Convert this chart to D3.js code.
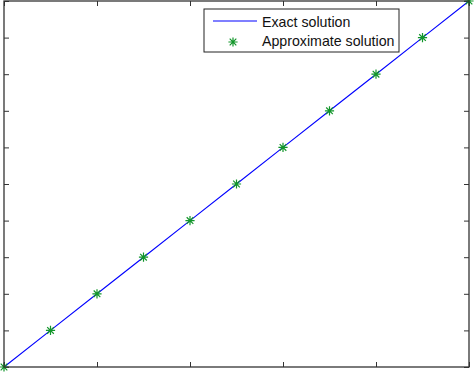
<!DOCTYPE html>
<meta charset="utf-8">
<body style="margin:0;background:#fff">
<svg id="chart" width="474" height="372"></svg>
<script src="https://cdnjs.cloudflare.com/ajax/libs/d3/7.8.5/d3.min.js"></script>
<script>
  // data
  var exactX = [0, 0.1, 0.2, 0.3, 0.4, 0.5, 0.6, 0.7, 0.8, 0.9, 1];
  var exactY = [0, 0.1, 0.2, 0.3, 0.4, 0.5, 0.6, 0.7, 0.8, 0.9, 1];
  var approxX = [0, 0.1, 0.2, 0.3, 0.4, 0.5, 0.6, 0.7, 0.8, 0.9, 1];
  var approxY = [0, 0.1, 0.2, 0.3, 0.4, 0.5, 0.6, 0.7, 0.8, 0.9, 1];
  var xTicks = [0, 0.2, 0.4, 0.6, 0.8, 1];
  var yTicks = [0, 0.1, 0.2, 0.3, 0.4, 0.5, 0.6, 0.7, 0.8, 0.9, 1];
  var seriesNames = ["Exact solution", "Approximate solution"];

  var margin = {top: 1, right: 5, bottom: 5, left: 4},
    width = 474 - margin.left - margin.right,
    height = 372 - margin.top - margin.bottom;

  var svg = d3.select("#chart");
  var g = svg.append("g").attr("transform", "translate(" + margin.left + "," + margin.top + ")");

  var x = d3.scaleLinear().domain([0, 1]).range([0, width]);
  var y = d3.scaleLinear().domain([0, 1]).range([height, 0]);

  // inward ticks on all four sides, no labels
  var tk = 5;
  g.append("g").attr("transform", "translate(0," + height + ")")
    .call(d3.axisBottom(x).tickValues(xTicks).tickSize(-tk).tickFormat(""));
  g.append("g")
    .call(d3.axisTop(x).tickValues(xTicks).tickSize(-tk).tickFormat(""));
  g.append("g")
    .call(d3.axisLeft(y).tickValues(yTicks).tickSize(-tk).tickFormat(""));
  g.append("g").attr("transform", "translate(" + width + ",0)")
    .call(d3.axisRight(y).tickValues(yTicks).tickSize(-tk).tickFormat(""));
  g.selectAll(".domain").remove();
  g.selectAll(".tick line").attr("stroke", "#333");

  // exact solution line
  var line = d3.line().x(function (d) { return x(d[0]); }).y(function (d) { return y(d[1]); });
  g.append("path")
    .datum(exactX.map(function (v, i) { return [v, exactY[i]]; }))
    .attr("d", line)
    .attr("fill", "none")
    .attr("stroke", "#0000ff")
    .attr("stroke-width", 1.1);

  // asterisk marker
  var r = 4.6;
  var star = "M" + -r + ",0H" + r + "M0," + -r + "V" + r +
    "M" + (-r * 0.72) + "," + (-r * 0.72) + "L" + (r * 0.72) + "," + (r * 0.72) +
    "M" + (-r * 0.72) + "," + (r * 0.72) + "L" + (r * 0.72) + "," + (-r * 0.72);

  g.selectAll(".pt")
    .data(approxX.map(function (v, i) { return [v, approxY[i]]; }))
    .join("path")
    .attr("class", "pt")
    .attr("transform", function (d) { return "translate(" + x(d[0]) + "," + y(d[1]) + ")"; })
    .attr("d", star)
    .attr("fill", "none")
    .attr("stroke", "#12962a")
    .attr("stroke-width", 1.2);

  // frame
  g.append("rect")
    .attr("width", width).attr("height", height)
    .attr("fill", "none")
    .attr("stroke", "#333")
    .attr("stroke-width", 1.3);

  // legend
  var lg = svg.append("g").attr("transform", "translate(204,9)");
  lg.append("rect")
    .attr("width", 195).attr("height", 43)
    .attr("fill", "#fff")
    .attr("stroke", "#222")
    .attr("stroke-width", 1);
  lg.append("line")
    .attr("x1", 9).attr("x2", 53).attr("y1", 12).attr("y2", 12)
    .attr("stroke", "#0000ff").attr("stroke-width", 1.1);
  lg.append("path")
    .attr("transform", "translate(29,33)")
    .attr("d", star)
    .attr("fill", "none")
    .attr("stroke", "#12962a")
    .attr("stroke-width", 1.2);
  lg.selectAll("text")
    .data(seriesNames)
    .join("text")
    .attr("x", 58)
    .attr("y", function (d, i) { return 17.5 + i * 19; })
    .text(function (d) { return d; })
    .style("font-family", "Liberation Sans, Arial, sans-serif")
    .style("font-size", "14.2px")
    .attr("fill", "#111");
</script>
</body>
